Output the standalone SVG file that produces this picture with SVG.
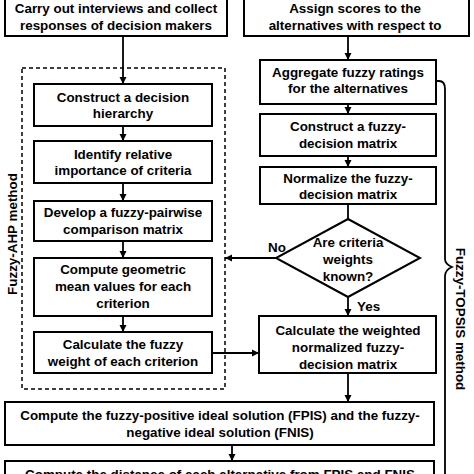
<svg xmlns="http://www.w3.org/2000/svg" width="474" height="474" viewBox="0 0 474 474">
<style>
  .box { fill: #ffffff; stroke: #000000; stroke-width: 2; }
  .dash { fill: none; stroke: #000000; stroke-width: 1.5; stroke-dasharray: 4 3; }
  .line { fill: none; stroke: #000000; stroke-width: 1.8; }
  text { font-family: "Liberation Sans", Arial, sans-serif; font-weight: bold; font-size: 13.4px; fill: #000000; text-anchor: middle; }
  .lab { text-anchor: start; }
</style>
<defs>
  <marker id="arr" viewBox="0 0 10 10" refX="10" refY="5" markerWidth="4" markerHeight="4" orient="auto" markerUnits="strokeWidth">
    <path d="M0,0 L10,5 L0,10 z" fill="#000000"/>
  </marker>
</defs>
<rect width="474" height="474" fill="#ffffff"/>

<g id="ahp-group">
  <rect class="dash" x="22" y="68" width="203" height="321"/>
  <text transform="translate(12,234) rotate(-90)" x="0" y="4.8">Fuzzy-AHP method</text>
</g>

<g id="connectors">
  <line class="line" x1="123" y1="36" x2="123" y2="84" marker-end="url(#arr)"/>
  <line class="line" x1="123" y1="126" x2="123" y2="141" marker-end="url(#arr)"/>
  <line class="line" x1="123" y1="183" x2="123" y2="201" marker-end="url(#arr)"/>
  <line class="line" x1="123" y1="241" x2="123" y2="258" marker-end="url(#arr)"/>
  <line class="line" x1="123" y1="316" x2="123" y2="332" marker-end="url(#arr)"/>
  <line class="line" x1="212" y1="353" x2="259" y2="353" marker-end="url(#arr)"/>
  <line class="line" x1="348" y1="36" x2="348" y2="60" marker-end="url(#arr)"/>
  <line class="line" x1="348" y1="104" x2="348" y2="114" marker-end="url(#arr)"/>
  <line class="line" x1="348" y1="156" x2="348" y2="167" marker-end="url(#arr)"/>
  <line class="line" x1="348" y1="204" x2="348" y2="219"/>
  <line class="line" x1="276" y1="258" x2="225" y2="258" marker-end="url(#arr)"/>
  <line class="line" x1="348" y1="297" x2="348" y2="316" marker-end="url(#arr)"/>
  <line class="line" x1="348" y1="373" x2="348" y2="402" marker-end="url(#arr)"/>
  <line class="line" x1="232" y1="445" x2="232" y2="461" marker-end="url(#arr)"/>
  <text class="lab" x="268" y="252">No</text>
  <text class="lab" x="357" y="311">Yes</text>
</g>

<g id="topsis-brace">
  <path class="line" d="M436,81 L439,81 Q445,81 445,89 L445,259 Q445,264 452,267 Q445,270 445,276 L445,480"/>
  <text transform="translate(461,319) rotate(90)" x="0" y="4.8">Fuzzy-TOPSIS method</text>
</g>

<g id="n-interviews">
  <rect class="box" x="5" y="-3" width="222" height="39"/>
  <text x="116" y="13">Carry out interviews and collect</text>
  <text x="116" y="29.5">responses of decision makers</text>
</g>

<g id="n-assign">
  <rect class="box" x="244" y="-3" width="225" height="39"/>
  <text x="355" y="13">Assign scores to the</text>
  <text x="355" y="29.5">alternatives with respect to</text>
</g>

<g id="n-hierarchy">
  <rect class="box" x="34" y="84" width="178" height="42"/>
  <text x="123" y="101.7">Construct a decision</text>
  <text x="123" y="118">hierarchy</text>
</g>

<g id="n-identify">
  <rect class="box" x="34" y="141" width="178" height="42"/>
  <text x="123" y="158.5">Identify relative</text>
  <text x="123" y="175">importance of criteria</text>
</g>

<g id="n-pairwise">
  <rect class="box" x="34" y="201" width="178" height="40"/>
  <text x="123" y="217.3">Develop a fuzzy-pairwise</text>
  <text x="123" y="234">comparison matrix</text>
</g>

<g id="n-geomean">
  <rect class="box" x="34" y="258" width="178" height="58"/>
  <text x="123" y="274.3">Compute geometric</text>
  <text x="123" y="291">mean values for each</text>
  <text x="123" y="307.7">criterion</text>
</g>

<g id="n-fuzzyweight">
  <rect class="box" x="34" y="332" width="178" height="41"/>
  <text x="123" y="349.3">Calculate the fuzzy</text>
  <text x="123" y="365.5">weight of each criterion</text>
</g>

<g id="n-aggregate">
  <rect class="box" x="260" y="60" width="176" height="44"/>
  <text x="348" y="76.7">Aggregate fuzzy ratings</text>
  <text x="348" y="93.3">for the alternatives</text>
</g>

<g id="n-decmatrix">
  <rect class="box" x="260" y="114" width="176" height="42"/>
  <text x="348" y="131">Construct a fuzzy-</text>
  <text x="348" y="148">decision matrix</text>
</g>

<g id="n-normalize">
  <rect class="box" x="260" y="167" width="176" height="37"/>
  <text x="348" y="182.7">Normalize the fuzzy-</text>
  <text x="348" y="199">decision matrix</text>
</g>

<g id="n-known">
  <polygon class="box" points="348,219 420,258 348,297 276,258"/>
  <text x="348" y="247.3">Are criteria</text>
  <text x="348" y="264">weights</text>
  <text x="348" y="280.7">known?</text>
</g>

<g id="n-weighted">
  <rect class="box" x="259" y="316" width="177" height="57"/>
  <text x="348" y="335">Calculate the weighted</text>
  <text x="348" y="352">normalized fuzzy-</text>
  <text x="348" y="368.5">decision matrix</text>
</g>

<g id="n-fpis">
  <rect class="box" x="5" y="402" width="429" height="43"/>
  <text x="220" y="420">Compute the fuzzy-positive ideal solution (FPIS) and the fuzzy-</text>
  <text x="220" y="436.7">negative ideal solution (FNIS)</text>
</g>

<g id="n-distance">
  <rect class="box" x="5" y="461" width="429" height="30"/>
  <text x="220" y="478.6">Compute the distance of each alternative from FPIS and FNIS</text>
</g>
</svg>
